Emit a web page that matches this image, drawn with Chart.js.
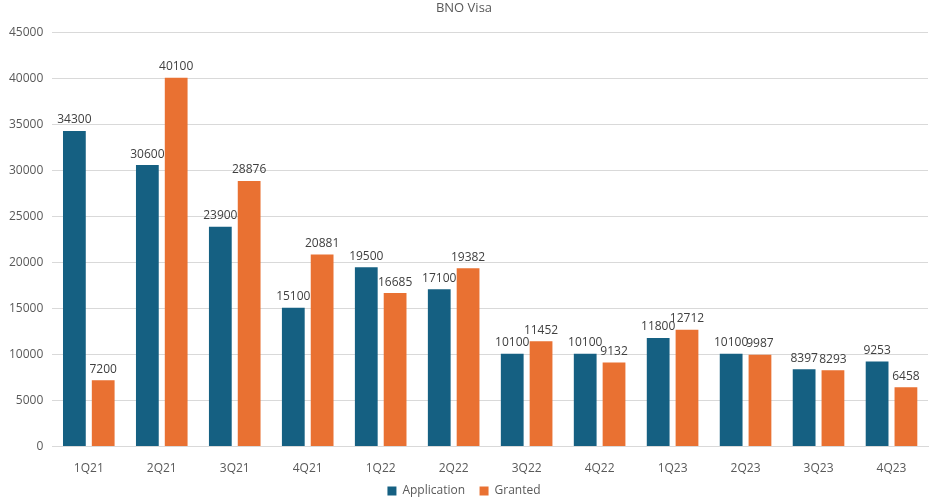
<!DOCTYPE html>
<html>
<head>
<meta charset="utf-8">
<script src="https://cdn.jsdelivr.net/npm/chart.js@4.4.0/dist/chart.umd.min.js"></script>
<style>
  html, body { margin: 0; padding: 0; background: #fff; }
  #frame { width: 944px; height: 499px; overflow: hidden; }
  #wrap { width: 944px; height: 507px; position: relative; }
</style>
</head>
<body>
<div id="frame"><div id="wrap"><canvas id="bno-chart"></canvas></div></div>
<script>
  // Chart data
  const quarters = ['1Q21', '2Q21', '3Q21', '4Q21', '1Q22', '2Q22', '3Q22', '4Q22', '1Q23', '2Q23', '3Q23', '4Q23'];
  const applications = [34300, 30600, 23900, 15100, 19500, 17100, 10100, 10100, 11800, 10100, 8397, 9253];
  const granted = [7200, 40100, 28876, 20881, 16685, 19382, 11452, 9132, 12712, 9987, 8293, 6458];

  const fontFamily = '"Open Sans", "DejaVu Sans", sans-serif';
  const textColor = '#595959';

  // Draws value labels above each bar
  const barLabels = {
    id: 'barLabels',
    afterDatasetsDraw(chart) {
      const ctx = chart.ctx;
      ctx.save();
      ctx.font = '12px ' + fontFamily;
      ctx.fillStyle = '#404040';
      ctx.textAlign = 'center';
      ctx.textBaseline = 'bottom';
      chart.data.datasets.forEach((ds, i) => {
        const meta = chart.getDatasetMeta(i);
        meta.data.forEach((bar, j) => {
          ctx.fillText(ds.data[j], bar.x, bar.y - 5);
        });
      });
      ctx.restore();
    }
  };

  new Chart(document.getElementById('bno-chart'), {
    type: 'bar',
    data: {
      labels: quarters,
      datasets: [{
        label: 'Application',
        data: applications,
        backgroundColor: '#156082',
        categoryPercentage: 0.79,
        barPercentage: 0.79
      }, {
        label: 'Granted',
        data: granted,
        backgroundColor: '#E97132',
        categoryPercentage: 0.79,
        barPercentage: 0.79
      }]
    },
    options: {
      responsive: true,
      maintainAspectRatio: false,
      animation: false,
      layout: {
        padding: { left: 0, right: 16, top: 0, bottom: 0 }
      },
      plugins: {
        title: {
          display: true,
          text: 'BNO Visa',
          color: textColor,
          font: { family: fontFamily, size: 13, weight: 'normal' },
          padding: { top: 0, bottom: 17 }
        },
        legend: {
          position: 'bottom',
          labels: {
            color: textColor,
            font: { family: fontFamily, size: 12 },
            boxWidth: 9,
            boxHeight: 9,
            padding: 2,
            // widen the gap between legend items without adding vertical space
            generateLabels: function(chart) {
              const items = Chart.defaults.plugins.legend.labels.generateLabels(chart);
              items.forEach((item, i) => {
                if (i < items.length - 1) item.text += '    ';
              });
              return items;
            }
          }
        },
        tooltip: { enabled: false }
      },
      scales: {
        x: {
          grid: { display: false },
          border: { color: '#d9d9d9' },
          ticks: {
            color: textColor,
            font: { family: fontFamily, size: 12 },
            padding: 7
          }
        },
        y: {
          min: 0,
          max: 45000,
          grid: { color: '#d9d9d9', drawTicks: false },
          border: { display: false },
          ticks: {
            stepSize: 5000,
            color: textColor,
            font: { family: fontFamily, size: 12 },
            padding: 9,
            callback: function(value) {
              return String(value);
            }
          }
        }
      }
    },
    plugins: [barLabels]
  });
</script>
</body>
</html>
